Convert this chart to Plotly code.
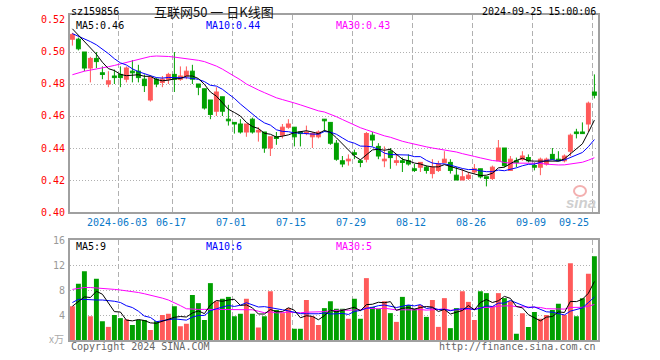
import plotly.graph_objects as go
import pandas as pd

# ---------------- data ----------------
holidays = ["2024-06-10", "2024-09-16", "2024-09-17"]
dates = [d.strftime("%Y-%m-%d") for d in pd.bdate_range("2024-05-22", "2024-09-25")
         if d.strftime("%Y-%m-%d") not in holidays]

open_ = [0.508,0.508,0.500,0.490,0.496,0.487,0.480,0.485,0.486,0.483,
         0.488,0.488,0.483,0.470,0.483,0.481,0.483,0.486,0.483,0.485,
         0.488,0.480,0.477,0.470,0.463,0.472,0.458,0.456,0.455,0.450,
         0.458,0.450,0.450,0.440,0.447,0.448,0.453,0.453,0.450,0.449,
         0.447,0.447,0.458,0.456,0.443,0.432,0.432,0.437,0.432,0.433,
         0.448,0.441,0.432,0.438,0.431,0.432,0.432,0.427,0.428,0.428,
         0.424,0.426,0.431,0.431,0.423,0.420,0.421,0.425,0.427,0.422,
         0.421,0.432,0.440,0.426,0.432,0.433,0.434,0.429,0.428,0.430,
         0.436,0.433,0.432,0.438,0.450,0.450,0.455,0.475]
high = [0.512,0.509,0.500,0.497,0.500,0.491,0.488,0.489,0.491,0.491,
        0.495,0.492,0.486,0.484,0.484,0.485,0.487,0.500,0.491,0.491,
        0.492,0.480,0.477,0.470,0.478,0.472,0.467,0.456,0.458,0.455,
        0.459,0.453,0.450,0.447,0.450,0.455,0.458,0.453,0.450,0.454,
        0.450,0.451,0.458,0.456,0.445,0.435,0.436,0.439,0.433,0.450,
        0.450,0.443,0.441,0.440,0.436,0.434,0.436,0.430,0.431,0.429,
        0.433,0.432,0.438,0.433,0.428,0.427,0.425,0.430,0.427,0.422,
        0.429,0.445,0.440,0.435,0.434,0.438,0.436,0.431,0.434,0.434,
        0.440,0.438,0.436,0.449,0.452,0.456,0.469,0.486]
low = [0.504,0.501,0.488,0.481,0.490,0.483,0.478,0.480,0.478,0.481,
       0.481,0.481,0.475,0.469,0.478,0.478,0.480,0.475,0.482,0.483,
       0.480,0.473,0.464,0.458,0.460,0.460,0.454,0.449,0.449,0.447,
       0.449,0.444,0.437,0.435,0.442,0.446,0.452,0.441,0.441,0.448,
       0.440,0.446,0.450,0.442,0.432,0.428,0.429,0.433,0.428,0.431,
       0.441,0.433,0.428,0.427,0.429,0.425,0.429,0.425,0.425,0.424,
       0.421,0.425,0.431,0.424,0.420,0.420,0.420,0.424,0.421,0.416,
       0.420,0.432,0.428,0.426,0.428,0.432,0.431,0.426,0.423,0.429,
       0.433,0.432,0.431,0.435,0.446,0.449,0.450,0.471]
close = [0.511,0.502,0.490,0.496,0.494,0.486,0.482,0.484,0.484,0.490,
         0.487,0.484,0.479,0.484,0.480,0.483,0.486,0.483,0.485,0.488,
         0.483,0.478,0.465,0.461,0.475,0.463,0.457,0.455,0.450,0.455,
         0.450,0.451,0.440,0.447,0.446,0.453,0.455,0.447,0.449,0.450,
         0.449,0.450,0.457,0.443,0.433,0.430,0.433,0.436,0.431,0.449,
         0.445,0.435,0.433,0.434,0.432,0.431,0.430,0.426,0.431,0.426,
         0.428,0.430,0.433,0.426,0.420,0.422,0.423,0.427,0.422,0.421,
         0.428,0.440,0.429,0.433,0.431,0.435,0.432,0.428,0.433,0.433,
         0.433,0.432,0.435,0.448,0.449,0.449,0.468,0.473]
volume = [5.4,9.0,11.0,3.8,9.8,3.0,2.1,4.0,3.5,3.3,
          2.4,3.2,3.2,1.6,3.0,4.0,4.2,5.4,2.2,2.6,
          7.2,5.9,3.2,9.1,6.2,6.6,6.9,3.8,4.2,6.6,
          4.2,2.0,3.8,7.8,4.8,4.3,5.1,1.8,1.8,6.4,
          3.8,2.4,5.1,6.2,5.0,5.0,3.4,6.6,3.4,9.9,
          5.3,5.0,6.2,4.3,2.9,6.9,5.6,5.0,5.6,3.7,
          6.4,2.1,6.7,1.9,5.1,7.8,6.1,3.2,7.8,7.5,
          5.4,7.5,6.7,6.2,1.0,4.3,2.1,4.5,3.4,4.0,
          4.8,5.8,4.0,12.3,3.8,6.7,10.6,13.4]

# moving-average values before enough in-window history exists
ma5_head = [0.5145, 0.5105, 0.5065, 0.5030]
ma10_head = [0.5115, 0.5100, 0.5083, 0.5065, 0.5045, 0.5020, 0.4990, 0.4958, 0.4932]
ma30_head = [0.4858, 0.4870, 0.4880, 0.4887, 0.4893, 0.4900, 0.4908, 0.4916, 0.4925, 0.4935,
             0.4945, 0.4955, 0.4965, 0.4972, 0.4975, 0.4975, 0.4972, 0.4968, 0.4964, 0.4958,
             0.4953, 0.4948, 0.4940, 0.4928, 0.4912, 0.4893, 0.4872, 0.4850, 0.4826]
vma5_head = [5.4, 6.1, 6.9, 6.8]
vma10_head = [6.0, 6.5, 6.5, 6.4, 6.4, 6.4, 6.35, 6.2, 6.0]
vma30_head = [8.1, 8.3, 8.4, 8.4, 8.35, 8.3, 8.2, 8.1, 8.0, 7.9,
              7.75, 7.6, 7.4, 7.2, 7.0, 6.7, 6.4, 6.0, 5.5, 5.0,
              4.9, 4.9, 4.9, 4.9, 4.9, 4.9, 4.9, 4.9, 4.9]

tick_dates = ["2024-06-03", "2024-06-17", "2024-07-01", "2024-07-15", "2024-07-29",
              "2024-08-12", "2024-08-26", "2024-09-09", "2024-09-25"]
tick_labels = ["2024-06-03", "06-17", "07-01", "07-15", "07-29", "08-12", "08-26", "09-09", "09-25"]
price_ticks = [0.40, 0.42, 0.44, 0.46, 0.48, 0.50, 0.52]
vol_ticks = [4, 8, 12, 16]

# ---------------- helpers ----------------
def moving_avg(vals, n, head):
    out = list(head)
    for i in range(len(head), len(vals)):
        out.append(sum(vals[i - n + 1:i + 1]) / n)
    return out

ma5 = moving_avg(close, 5, ma5_head)
ma10 = moving_avg(close, 10, ma10_head)
ma30 = moving_avg(close, 30, ma30_head)
vma5 = moving_avg(volume, 5, vma5_head)
vma10 = moving_avg(volume, 10, vma10_head)
vma30 = moving_avg(volume, 30, vma30_head)

W, H = 660, 360
def PX(p):
    return p / W
def PY(p):
    return 1 - p / H

RED = "#ff5a5a"
GREEN = "#00a000"
MONO = "DejaVu Sans Mono"

n = len(close)
idx = list(range(n))
up = [close[i] > open_[i] for i in idx]
colors = [RED if u else GREEN for u in up]
BW = 0.82

fig = go.Figure()

# candle bodies
fig.add_trace(go.Bar(x=idx, y=[abs(close[i] - open_[i]) for i in idx],
                     base=[min(open_[i], close[i]) for i in idx],
                     width=BW, marker=dict(color=colors, line=dict(width=0)),
                     xaxis="x", yaxis="y", hoverinfo="skip"))

# wicks + open/close ticks
for flag, col in [(True, RED), (False, GREEN)]:
    xs, ys = [], []
    for i in idx:
        if up[i] != flag:
            continue
        xs += [i, i, None, i - BW / 2, i + BW / 2, None, i - BW / 2, i + BW / 2, None]
        ys += [low[i], high[i], None, open_[i], open_[i], None, close[i], close[i], None]
    fig.add_trace(go.Scatter(x=xs, y=ys, mode="lines", line=dict(color=col, width=1),
                             xaxis="x", yaxis="y", hoverinfo="skip"))

for vals, col in [(ma30, "#ff00ff"), (ma10, "#0000ff"), (ma5, "#000000")]:
    fig.add_trace(go.Scatter(x=idx, y=vals, mode="lines", line=dict(color=col, width=1),
                             xaxis="x", yaxis="y", hoverinfo="skip"))

# volume
fig.add_trace(go.Bar(x=idx, y=volume, width=BW, marker=dict(color=colors, line=dict(width=0)),
                     xaxis="x2", yaxis="y2", hoverinfo="skip"))
for vals, col in [(vma30, "#ff00ff"), (vma10, "#0000ff"), (vma5, "#000000")]:
    fig.add_trace(go.Scatter(x=idx, y=vals, mode="lines", line=dict(color=col, width=1),
                             xaxis="x2", yaxis="y2", hoverinfo="skip"))

tick_idx = [dates.index(d) for d in tick_dates]
grid_x = [t - 0.35 for t in tick_idx]

xdom = [PX(70), PX(597.7)]
common_x = dict(domain=xdom, range=[-0.4, 87.55], tickvals=grid_x, showticklabels=False,
                showgrid=True, gridcolor="#b0b0b0", gridwidth=1, griddash="5px,3px",
                showline=True, mirror=True, linecolor="#a0a0a0", linewidth=2,
                zeroline=False, ticks="", fixedrange=True)
common_y = dict(showticklabels=False, showgrid=True, gridcolor="#b0b0b0", gridwidth=1,
                griddash="1px,2px", showline=True, mirror=True, linecolor="#a0a0a0",
                linewidth=2, zeroline=False, ticks="", fixedrange=True)

fig.update_layout(
    width=W, height=H, margin=dict(l=0, r=0, t=0, b=0),
    paper_bgcolor="white", plot_bgcolor="white", showlegend=False,
    barmode="overlay",
    xaxis=dict(**common_x, anchor="y"),
    yaxis=dict(**common_y, domain=[PY(212), PY(15)], range=[0.40, 0.40 + 197 * 0.000625],
               tickvals=[0.42, 0.44, 0.46, 0.48, 0.50], anchor="x"),
    xaxis2=dict(**common_x, anchor="y2", matches="x"),
    yaxis2=dict(**common_y, domain=[PY(340), PY(240)], range=[0, 16],
                tickvals=[4, 8, 12], anchor="x2"),
)

ann = []
def txt(text, x, y, xanchor="left", color="#000", size=10, family=MONO, xref="paper", yref="paper"):
    ann.append(dict(text=text, x=x, y=y, xref=xref, yref=yref, xanchor=xanchor, yanchor="middle",
                    showarrow=False, font=dict(color=color, size=size, family=family)))

for v in price_ticks:
    txt(f"{v:.2f}", PX(67), v, xanchor="right", color="#ff0000", yref="y")
for v in vol_ticks:
    txt(str(v), PX(67), v, xanchor="right", color="#999999", yref="y2")
txt("x万", PX(66), PY(338), xanchor="right", color="#aaaaaa", size=10,
    family="Noto Sans CJK SC")

for t, lab in zip(tick_idx, tick_labels):
    if t == tick_idx[-1]:
        txt(lab, t - 0.55, PY(222), xanchor="right", color="#0a78c8", xref="x")
    else:
        txt(lab, t - 0.5, PY(222), xanchor="center", color="#0a78c8", xref="x")

txt("sz159856", PX(69), PY(12))
txt("互联网50 一 日K线图", PX(213.5), PY(12), xanchor="center", size=13,
    family="Noto Sans CJK SC", color="#111111")
txt("2024-09-25 15:00:06", PX(598), PY(12), xanchor="right")

txt("MA5:0.46", PX(74), PY(26), color="#000000")
txt("MA10:0.44", PX(204), PY(26), color="#0000ff")
txt("MA30:0.43", PX(334), PY(26), color="#ff00ff")
txt("MA5:9", PX(74), PY(246), color="#000000")
txt("MA10:6", PX(204), PY(246), color="#0000ff")
txt("MA30:5", PX(334), PY(246), color="#ff00ff")

txt("Copyright 2024 SINA.COM", PX(69), PY(346), color="#666666")
txt("http://finance.sina.com.cn", PX(598), PY(346), xanchor="right", color="#666666")

# sina watermark
txt("<b><i>sina</i></b>", PX(581), PY(202), xanchor="center", color="#cfcfcf", size=15,
    family="Liberation Sans")
fig.update_layout(annotations=ann, shapes=[
    dict(type="circle", xref="paper", yref="paper", x0=PX(574), x1=PX(586),
         y0=PY(196), y1=PY(186), line=dict(color="#f3b0b0", width=2))
])

fig.write_html("out.html", config={"displayModeBar": False, "staticPlot": True},
               post_script="document.body.style.margin='0';document.body.style.padding='0';"
                           "document.body.style.overflow='hidden';")
